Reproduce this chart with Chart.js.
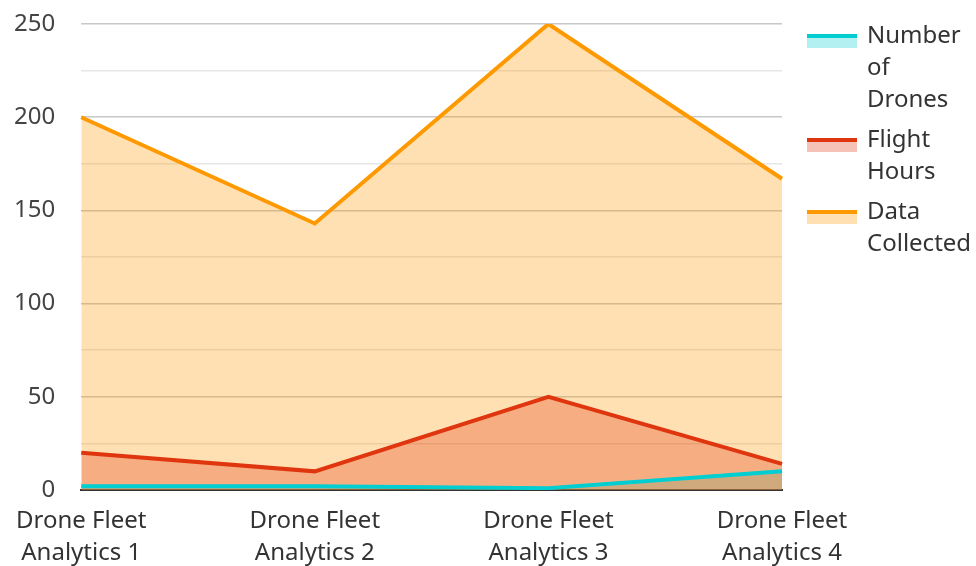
<!DOCTYPE html>
<html>
<head>
<meta charset="utf-8">
<script src="https://cdn.jsdelivr.net/npm/chart.js@4"></script>
<style>
  html, body { margin: 0; padding: 0; background: #fff; }
  #wrap { position: relative; width: 976px; height: 566px; }
  #legend { position: absolute; left: 807px; top: 18px; font-family: "Noto Sans", sans-serif; font-size: 24px; color: #333; }
  .item { position: relative; padding-left: 60px; line-height: 32px; margin-bottom: 8px; }
  .swatch { position: absolute; left: 0; top: 16px; width: 50px; height: 14px; }
  .swatch .ln { height: 4px; }
</style>
</head>
<body>
<div id="wrap">
  <canvas id="chart" width="976" height="566"></canvas>
  <div id="legend"></div>
</div>
<script>
const categories = [
  ["Drone Fleet", "Analytics 1"],
  ["Drone Fleet", "Analytics 2"],
  ["Drone Fleet", "Analytics 3"],
  ["Drone Fleet", "Analytics 4"]
];
const numberOfDrones = [2, 2, 1, 10];
const flightHours = [20, 10, 50, 14];
const dataCollected = [200, 143, 250, 167];

const seriesNames = [["Number", "of", "Drones"], ["Flight", "Hours"], ["Data", "Collected"]];
const lineColors = ["#00CED1", "#E0360F", "#FF9900"];
const swatchFills = ["rgba(0,206,209,0.3)", "rgba(224,54,15,0.3)", "rgba(255,153,0,0.3)"];
// area fills as they look in the chart (the lowest one comes out tan there)
const areaFills = ["rgba(118,158,110,0.3)", "rgba(224,54,15,0.3)", "rgba(255,153,0,0.3)"];

const font = { family: "'Noto Sans', sans-serif", size: 24, lineHeight: 1.3 };

const ctx = document.getElementById("chart").getContext("2d");

new Chart(ctx, {
  type: "line",
  data: {
    labels: categories,
    datasets: [numberOfDrones, flightHours, dataCollected].map((d, i) => ({
      label: seriesNames[i].join(" "),
      data: d,
      borderColor: lineColors[i],
      backgroundColor: areaFills[i],
      borderWidth: 4,
      fill: "origin",
      pointRadius: 0,
      tension: 0
    }))
  },
  options: {
    responsive: false,
    animation: false,
    layout: { padding: { top: 24, right: 194, left: 0, bottom: 0 } },
    plugins: { legend: { display: false }, tooltip: { enabled: false } },
    scales: {
      x: {
        offset: false,
        afterFit: (scale) => { scale.height = 76; },
        grid: { display: false, drawTicks: false },
        border: { display: true, color: "#333", width: 2 },
        ticks: { font: font, color: "#333", padding: 16, maxRotation: 0 }
      },
      y: {
        min: 0,
        max: 250,
        afterFit: (scale) => {
          scale.width = 80;
          scale.paddingTop = 0;
          scale.paddingBottom = 0;
        },
        grid: {
          drawTicks: false,
          color: (c) => (c.tick && c.tick.value % 50 === 0 ? "#c8c8c8" : "#e6e6e6"),
          lineWidth: 1.5
        },
        border: { display: false },
        ticks: {
          stepSize: 25,
          padding: 26,
          font: font,
          color: "#444",
          callback: (v) => (v % 50 === 0 ? v : "")
        }
      }
    }
  }
});

const legend = document.getElementById("legend");
seriesNames.forEach((name, i) => {
  const item = document.createElement("div");
  item.className = "item";
  item.innerHTML = '<div class="swatch" style="background:' + swatchFills[i] + '"><div class="ln" style="background:' + lineColors[i] + '"></div></div>' + name.join("<br>");
  legend.appendChild(item);
});
</script>
</body>
</html>
